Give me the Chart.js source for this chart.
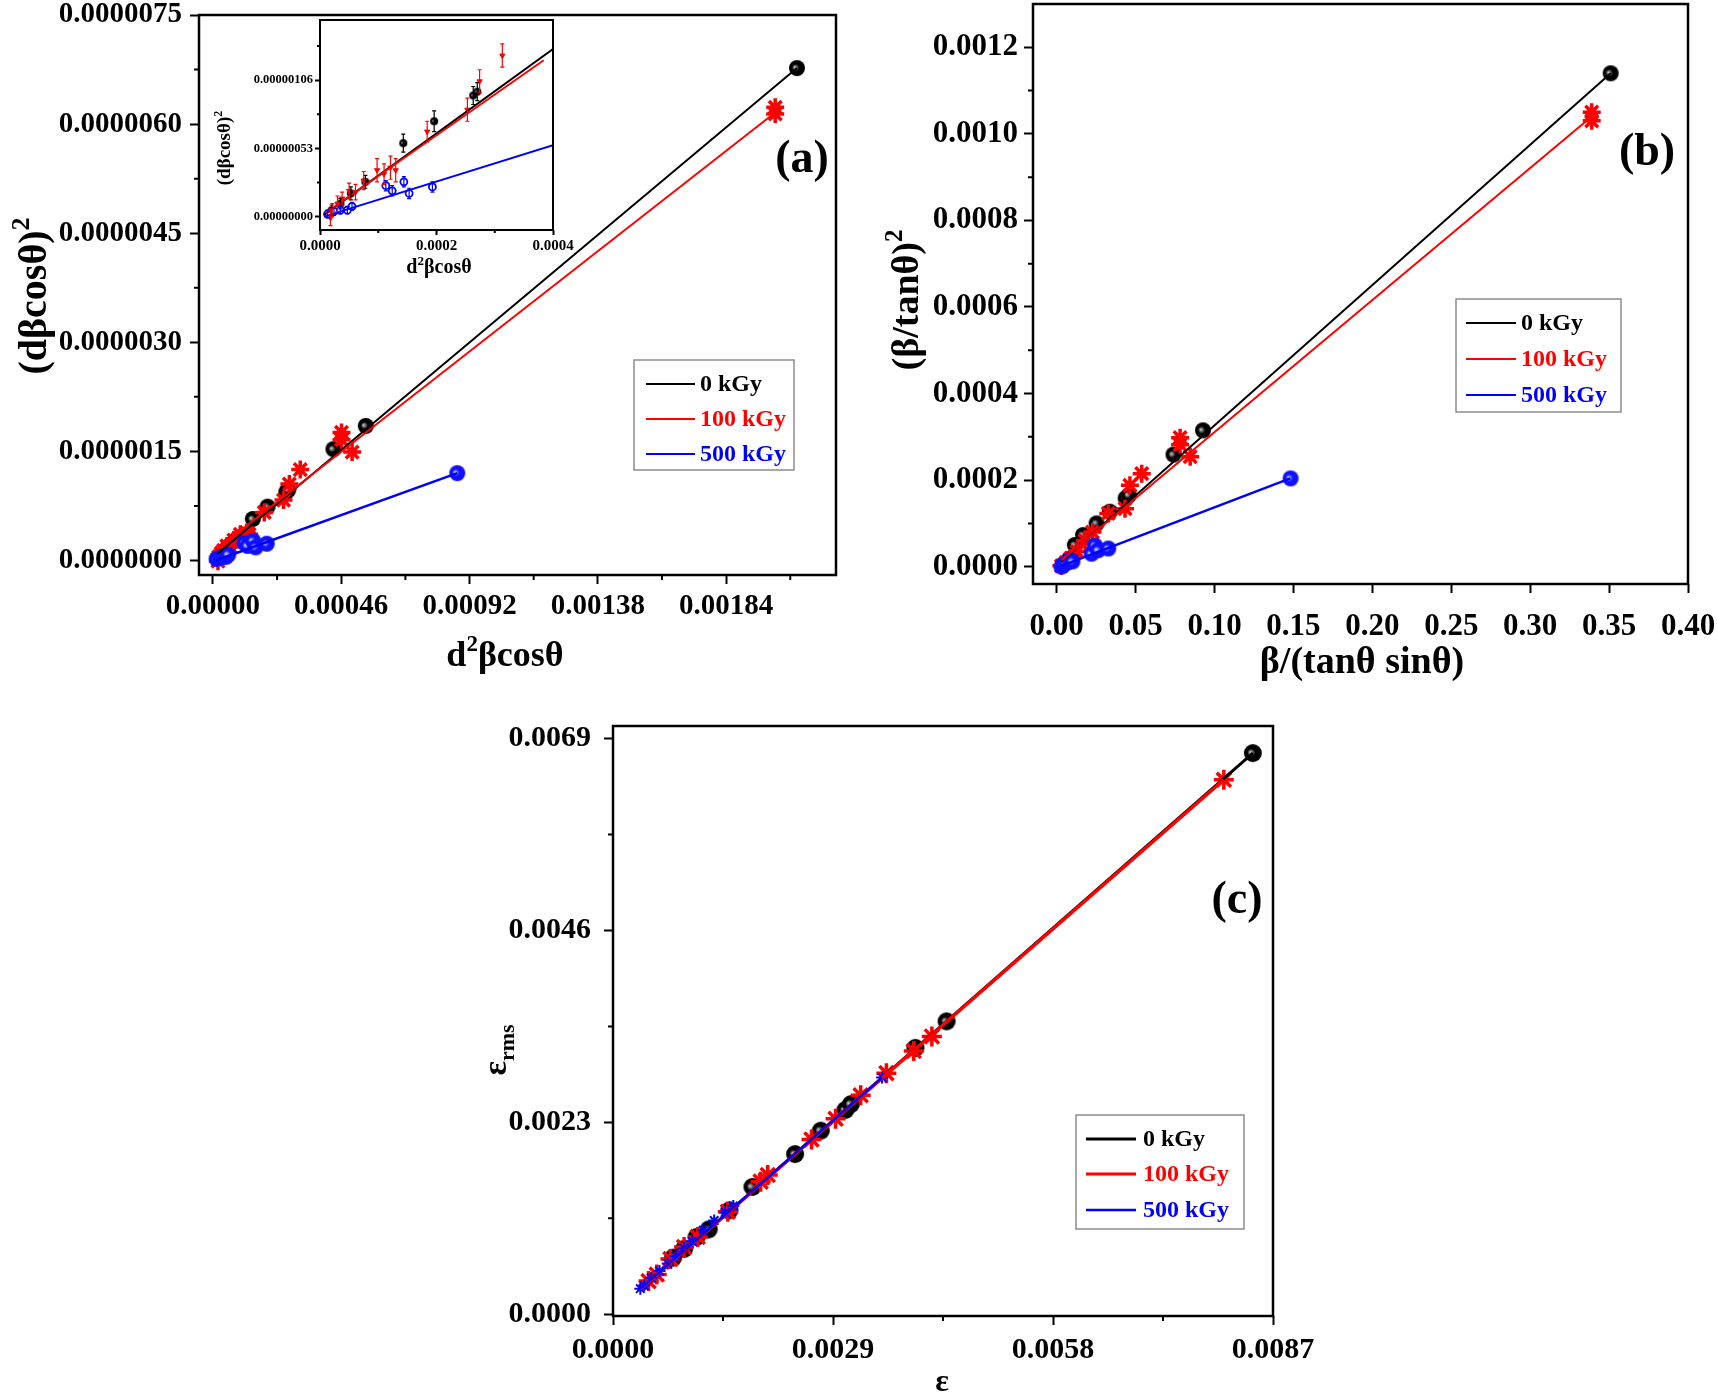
<!DOCTYPE html>
<html lang="en">
<head>
<meta charset="UTF-8" />
<title>Size-strain plots, 0 / 100 / 500 kGy</title>
<script src="https://cdn.jsdelivr.net/npm/chart.js"></script>
<style>
  body { margin: 0; background: #fff; width: 1717px; height: 1399px; position: relative; overflow: hidden; }
  canvas { position: absolute; }
</style>
</head>
<body>
<canvas id="chartA" width="860" height="690" style="left:0;top:0"></canvas>
<canvas id="chartInset" width="400" height="285" style="left:200px;top:0"></canvas>
<canvas id="chartB" width="857" height="690" style="left:860px;top:0"></canvas>
<canvas id="chartC" width="917" height="709" style="left:400px;top:690px"></canvas>
<script>
// ---------- panel (a): (dβcosθ)² vs d²βcosθ ----------
const aTicksX = [0, 0.00046, 0.00092, 0.00138, 0.00184];
const aMinorX = [0.00023, 0.00069, 0.00115, 0.00161, 0.00207];
const aTicksY = [0, 0.0000015, 0.000003, 0.0000045, 0.000006, 0.0000075];
const aMinorY = [0.00000075, 0.00000225, 0.00000375, 0.00000525, 0.00000675];

const a0kX = [0.000020, 0.000035, 0.000053, 0.000078, 0.000143, 0.000196, 0.000263, 0.000270, 0.000432, 0.000548, 0.002094];
const a0kY = [0.05e-6, 0.10e-6, 0.18e-6, 0.27e-6, 0.57e-6, 0.74e-6, 0.94e-6, 0.97e-6, 1.53e-6, 1.85e-6, 6.77e-6];
const a0kErr = [0.04e-6, 0.04e-6, 0.05e-6, 0.05e-6, 0.07e-6, 0.08e-6, 0.07e-6, 0.07e-6, 0.08e-6, 0.08e-6, 0.1e-6];

const a100kX = [0.000018, 0.000021, 0.000030, 0.000038, 0.000050, 0.000061, 0.000075, 0.000098, 0.000110, 0.000121, 0.000130, 0.000184, 0.000253, 0.000274, 0.000313, 0.000461, 0.000461, 0.000499, 0.002016, 0.002016];
const a100kY = [-0.01e-6, 0.05e-6, 0.10e-6, 0.14e-6, 0.20e-6, 0.19e-6, 0.28e-6, 0.36e-6, 0.33e-6, 0.38e-6, 0.36e-6, 0.66e-6, 0.83e-6, 1.05e-6, 1.25e-6, 1.66e-6, 1.76e-6, 1.49e-6, 6.14e-6, 6.23e-6];
const a100kErr = [0.06e-6, 0.05e-6, 0.06e-6, 0.05e-6, 0.06e-6, 0.06e-6, 0.07e-6, 0.09e-6, 0.08e-6, 0.09e-6, 0.09e-6, 0.08e-6, 0.09e-6, 0.09e-6, 0.09e-6, 0.09e-6, 0.09e-6, 0.09e-6, 0.1e-6, 0.1e-6];

const a500kX = [0.000013, 0.000024, 0.000035, 0.000047, 0.000055, 0.000113, 0.000124, 0.000144, 0.000153, 0.000193, 0.000876];
const a500kY = [0.02e-6, 0.04e-6, 0.05e-6, 0.05e-6, 0.08e-6, 0.24e-6, 0.20e-6, 0.27e-6, 0.18e-6, 0.23e-6, 1.20e-6];
const a500kErr = [0.03e-6, 0.03e-6, 0.03e-6, 0.03e-6, 0.03e-6, 0.04e-6, 0.04e-6, 0.04e-6, 0.04e-6, 0.04e-6, 0.05e-6];

// fitted lines (end points)
const a0kFitX = [0.000015, 0.002094], a0kFitY = [0.09e-6, 6.77e-6];
const a100kFitX = [0.000005, 0.002016], a100kFitY = [0.13e-6, 6.16e-6];
const a500kFitX = [0.000010, 0.000876], a500kFitY = [0.0, 1.20e-6];

// inset of (a)
const inTicksX = [0, 0.0002, 0.0004];
const inMinorX = [0.0001, 0.0003];
const inTicksY = [0, 0.00000053, 0.00000106];
const inMinorY = [0.000000265, 0.000000795, 0.000001325];
const in0kFitX = [0.000007, 0.0004], in0kFitY = [0.013e-6, 1.30e-6];
const in100kFitX = [0.000010, 0.000384], in100kFitY = [0.03e-6, 1.214e-6];
const in500kFitX = [0.000007, 0.0004], in500kFitY = [0.0, 0.554e-6];

// ---------- panel (b): (β/tanθ)² vs β/(tanθ sinθ) ----------
const bTicksX = [0, 0.05, 0.10, 0.15, 0.20, 0.25, 0.30, 0.35, 0.40];
const bMinorX = [];
const bTicksY = [0, 0.0002, 0.0004, 0.0006, 0.0008, 0.0010, 0.0012];
const bMinorY = [0.0001, 0.0003, 0.0005, 0.0007, 0.0009, 0.0011];

const b0kX = [0.004, 0.008, 0.0115, 0.0167, 0.0253, 0.0337, 0.0437, 0.0458, 0.074, 0.0927, 0.351];
const b0kY = [0.000005, 0.000018, 0.00005, 0.000073, 0.0001, 0.000127, 0.000158, 0.000165, 0.000259, 0.000315, 0.00114];
const b100kX = [0.003, 0.006, 0.009, 0.013, 0.018, 0.0227, 0.0327, 0.0433, 0.0464, 0.0539, 0.0782, 0.0782, 0.0846, 0.339, 0.339];
const b100kY = [0.000002, 0.00001, 0.00002, 0.000035, 0.00006, 0.00008, 0.000123, 0.000134, 0.000188, 0.000215, 0.000282, 0.000298, 0.000254, 0.00105, 0.00103];
const b500kX = [0.003, 0.004, 0.006, 0.0083, 0.010, 0.0221, 0.0242, 0.0263, 0.0327, 0.1482];
const b500kY = [0.0, 0.000004, 0.000008, 0.000015, 0.000012, 0.00003, 0.000049, 0.000038, 0.000042, 0.000204];

const b0kFitX = [0.003, 0.351], b0kFitY = [0.000012, 0.00114];
const b100kFitX = [0.003, 0.339], b100kFitY = [0.000015, 0.00104];
const b500kFitX = [0.003, 0.148], b500kFitY = [0.000002, 0.000204];

// ---------- panel (c): ε_rms vs ε ----------
const cTicksX = [0, 0.0029, 0.0058, 0.0087];
const cMinorX = [0.00145, 0.00435, 0.00725];
const cTicksY = [0, 0.0023, 0.0046, 0.0069];
const cMinorY = [0.00115, 0.00345, 0.00575];

const c0kX = [0.000793, 0.000937, 0.001103, 0.001262, 0.001535, 0.001838, 0.0024, 0.002739, 0.003064, 0.003136, 0.003986, 0.004397, 0.008434];
const c0kY = [0.000679, 0.000785, 0.000928, 0.001018, 0.001246, 0.001527, 0.00192, 0.002201, 0.00245, 0.002519, 0.003193, 0.003511, 0.006725];
const c100kX = [0.000469, 0.000577, 0.000757, 0.000937, 0.001117, 0.001514, 0.001946, 0.00204, 0.002617, 0.002934, 0.003265, 0.003604, 0.003965, 0.004203, 0.008052];
const c100kY = [0.000398, 0.000477, 0.000663, 0.000806, 0.000928, 0.00123, 0.00159, 0.00167, 0.002095, 0.002344, 0.002625, 0.00289, 0.003155, 0.00333, 0.006406];
const c500kX = [0.00036, 0.000411, 0.000505, 0.000613, 0.000721, 0.000829, 0.000937, 0.001045, 0.00119, 0.001334, 0.001478, 0.001586, 0.003547];
const c500kY = [0.000308, 0.000345, 0.000435, 0.00052, 0.00061, 0.0007, 0.000795, 0.000875, 0.001008, 0.001124, 0.00122, 0.001299, 0.002837];

const c0kFitX = [0.00036, 0.008434], c0kFitY = [0.0003, 0.006725];
const c100kFitX = [0.00036, 0.008052], c100kFitY = [0.0003, 0.006406];
const c500kFitX = [0.00036, 0.003547], c500kFitY = [0.000305, 0.002837];

const series = ['0 kGy', '100 kGy', '500 kGy'];
const BLACK = '#000000', RED = '#ff0000', BLUE = '#0000ff';
const FAMILY = '"Liberation Serif", "Times New Roman", serif';

// ---------- helpers ----------
const pts = (xs, ys) => xs.map((x, i) => ({ x: x, y: ys[i] }));

// shaded sphere marker like the Origin "ball" symbol
function ball(dark, light, r) {
  const c = document.createElement('canvas');
  c.width = c.height = 2 * r + 2;
  const g = c.getContext('2d');
  const m = r + 1;
  const grad = g.createRadialGradient(m - r * 0.3, m - r * 0.1, 0, m, m, r);
  grad.addColorStop(0, light);
  grad.addColorStop(0.45, dark);
  grad.addColorStop(1, dark);
  g.fillStyle = grad;
  g.beginPath();
  g.arc(m, m, r, 0, Math.PI * 2);
  g.fill();
  return c;
}

function axis(min, max, ticks, digits, size, pad, fit, isX, tl) {
  return {
    type: 'linear', min: min, max: max,
    afterBuildTicks: s => { s.ticks = ticks.map(v => ({ value: v })); },
    afterFit: s => {
      if (isX) { s.height = fit; s.paddingLeft = 0; s.paddingRight = 0; }
      else { s.width = fit; s.paddingTop = 0; s.paddingBottom = 0; }
    },
    ticks: {
      callback: v => v.toFixed(digits),
      font: { family: FAMILY, weight: 'bold', size: size },
      color: '#000', padding: pad, maxRotation: 0, autoSkip: false
    },
    grid: { drawOnChartArea: false, drawTicks: true, tickLength: tl, tickWidth: 2, tickColor: '#000' },
    border: { display: false }
  };
}

function lineSet(label, xs, ys, color, w, order) {
  return { label: label, data: pts(xs, ys), showLine: true, borderColor: color, backgroundColor: color,
           borderWidth: w, pointRadius: 0, order: order, fit: true };
}
function markSet(label, xs, ys, style, r, color, bw, order, extra) {
  return Object.assign({ label: label, data: pts(xs, ys), showLine: false, pointStyle: style, pointRadius: r,
           borderColor: color, backgroundColor: color, borderWidth: bw, order: order }, extra || {});
}

// per-canvas extras: frame, minor ticks, texts, legend box
const extras = {};

const framePlugin = {
  id: 'frameAndMinor',
  afterDatasetsDraw(chart) {
    const cfg = extras[chart.canvas.id];
    if (!cfg) return;
    const ctx = chart.ctx, a = chart.chartArea, sx = chart.scales.x, sy = chart.scales.y;
    ctx.save();
    // error bars
    chart.data.datasets.forEach(ds => {
      if (!ds.errY) return;
      ctx.strokeStyle = ds.borderColor;
      ctx.lineWidth = 1.2;
      ctx.beginPath();
      ds.data.forEach((p, i) => {
        const px = sx.getPixelForValue(p.x);
        if (px < a.left || px > a.right) return;
        const y1 = sy.getPixelForValue(p.y - ds.errY[i]), y2 = sy.getPixelForValue(p.y + ds.errY[i]);
        ctx.moveTo(px, y1); ctx.lineTo(px, y2);
        ctx.moveTo(px - 2, y1); ctx.lineTo(px + 2, y1);
        ctx.moveTo(px - 2, y2); ctx.lineTo(px + 2, y2);
      });
      ctx.stroke();
    });
    ctx.strokeStyle = '#000';
    ctx.lineWidth = cfg.frame;
    ctx.strokeRect(a.left, a.top, a.right - a.left, a.bottom - a.top);
    ctx.lineWidth = 2;
    ctx.beginPath();
    cfg.minorX.forEach(v => { const p = sx.getPixelForValue(v); ctx.moveTo(p, a.bottom); ctx.lineTo(p, a.bottom + cfg.minorLen); });
    cfg.minorY.forEach(v => { const p = sy.getPixelForValue(v); ctx.moveTo(a.left, p); ctx.lineTo(a.left - cfg.minorLen, p); });
    ctx.stroke();
    ctx.restore();
  },
  afterDraw(chart) {
    const cfg = extras[chart.canvas.id];
    if (!cfg) return;
    const ctx = chart.ctx;
    (cfg.texts || []).forEach(t => {
      ctx.save();
      ctx.translate(t.x, t.y);
      if (t.rot) ctx.rotate(t.rot);
      ctx.fillStyle = '#000';
      ctx.textBaseline = 'alphabetic';
      let total = 0;
      const ws = t.parts.map(p => { ctx.font = 'bold ' + p[1] + 'px ' + FAMILY; const w = ctx.measureText(p[0]).width; total += w; return w; });
      let x = -total / 2;
      const base = t.parts[0][1] * 0.33;
      t.parts.forEach((p, i) => {
        ctx.font = 'bold ' + p[1] + 'px ' + FAMILY;
        ctx.fillText(p[0], x, base + p[2]);
        x += ws[i];
      });
      ctx.restore();
    });
    const lg = cfg.legend;
    if (lg) {
      ctx.save();
      ctx.strokeStyle = '#8c8c8c';
      ctx.lineWidth = 1.5;
      ctx.strokeRect(lg.box[0], lg.box[1], lg.box[2], lg.box[3]);
      const fits = chart.data.datasets.filter(d => d.fit);
      fits.forEach((d, i) => {
        const y = lg.rows[i];
        ctx.strokeStyle = d.borderColor;
        ctx.lineWidth = lg.lw[i];
        ctx.beginPath(); ctx.moveTo(lg.x0, y); ctx.lineTo(lg.x1, y); ctx.stroke();
        ctx.fillStyle = d.borderColor;
        ctx.font = 'bold ' + lg.size + 'px ' + FAMILY;
        ctx.textBaseline = 'middle';
        ctx.fillText(d.label, lg.tx, y + 1);
      });
      ctx.restore();
    }
  }
};
Chart.register(framePlugin);

function baseOptions(pad, xAxis, yAxis) {
  return {
    responsive: false, animation: false, events: [],
    layout: { padding: pad, autoPadding: false },
    plugins: { legend: { display: false }, tooltip: { enabled: false } },
    scales: { x: xAxis, y: yAxis }
  };
}

// ---------- markers ----------
const ballBlack = ball('#000000', '#d6d6d6', 8);
const ballBlue = ball('#1010ff', '#e6e6ff', 8);
const ballBlackC = ball('#000000', '#d6d6d6', 9);
const ballBlackS = ball('#000000', '#bbbbbb', 4);

// ---------- chart (a) ----------
extras.chartA = {
  frame: 2.5, minorX: aMinorX, minorY: aMinorY, minorLen: 5,
  texts: [
    { x: 33, y: 296, rot: -Math.PI / 2, parts: [['(dβcosθ)', 40, 0], ['2', 26, -17]] },
    { x: 505, y: 654, parts: [['d', 36, 0], ['2', 23, -15], ['βcosθ', 36, 0]] },
    { x: 802, y: 157, parts: [['(a)', 46, 0]] }
  ],
  legend: { box: [634, 360, 160, 110], rows: [384, 419, 454], x0: 646, x1: 695, tx: 700, size: 24, lw: [2, 2, 2] }
};
new Chart(document.getElementById('chartA'), {
  type: 'scatter',
  data: { datasets: [
    lineSet(series[0], a0kFitX, a0kFitY, BLACK, 2, 2),
    lineSet(series[1], a100kFitX, a100kFitY, RED, 2, 1),
    lineSet(series[2], a500kFitX, a500kFitY, BLUE, 2.5, 0),
    markSet(series[0], a0kX, a0kY, ballBlack, 8, BLACK, 1, 5),
    markSet(series[1], a100kX, a100kY, 'star', 9, RED, 3.5, 4),
    markSet(series[2], a500kX, a500kY, ballBlue, 8, BLUE, 1, 3)
  ] },
  options: baseOptions({ left: 0, top: 15, right: 24, bottom: 0 },
    axis(-0.00005, 0.002234, aTicksX, 5, 29, 5, 115, true, 9),
    axis(-0.0000002, 0.0000075, aTicksY, 7, 29, 8, 199, false, 9))
});

// ---------- inset of (a) ----------
extras.chartInset = {
  frame: 2, minorX: inMinorX, minorY: inMinorY, minorLen: 3,
  texts: [
    { x: 24, y: 148, rot: -Math.PI / 2, parts: [['(dβcosθ)', 19, 0], ['2', 12, -8]] },
    { x: 239, y: 266, parts: [['d', 20, 0], ['2', 13, -8], ['βcosθ', 20, 0]] }
  ]
};
new Chart(document.getElementById('chartInset'), {
  type: 'scatter',
  data: { datasets: [
    lineSet(series[0], in0kFitX, in0kFitY, BLACK, 2, 2),
    lineSet(series[1], in100kFitX, in100kFitY, RED, 2, 1),
    lineSet(series[2], in500kFitX, in500kFitY, BLUE, 2, 0),
    markSet(series[0], a0kX, a0kY, ballBlackS, 4, BLACK, 1, 5, { errY: a0kErr }),
    markSet(series[1], a100kX, a100kY, 'triangle', 3, RED, 1, 4, { errY: a100kErr, rotation: 180 }),
    markSet(series[2], a500kX, a500kY, 'circle', 3.5, BLUE, 1.8, 3, { errY: a500kErr, backgroundColor: '#ffffff' })
  ] },
  options: baseOptions({ left: 0, top: 20, right: 47, bottom: 0 },
    axis(0, 0.0004, inTicksX, 4, 15, 2, 55, true, 5),
    axis(-0.000000104, 0.000001526, inTicksY, 8, 12.5, 2, 120, false, 5))
});

// ---------- chart (b) ----------
extras.chartB = {
  frame: 2.5, minorX: bMinorX, minorY: bMinorY, minorLen: 5,
  texts: [
    { x: 45, y: 300, rot: -Math.PI / 2, parts: [['(β/tanθ)', 38, 0], ['2', 25, -16]] },
    { x: 502, y: 660, parts: [['β/(tanθ sinθ)', 38, 0]] },
    { x: 787, y: 150, parts: [['(b)', 46, 0]] }
  ],
  legend: { box: [596, 299, 165, 113], rows: [323, 359, 395], x0: 606, x1: 656, tx: 661, size: 24, lw: [2, 2, 2] }
};
new Chart(document.getElementById('chartB'), {
  type: 'scatter',
  data: { datasets: [
    lineSet(series[0], b0kFitX, b0kFitY, BLACK, 2, 2),
    lineSet(series[1], b100kFitX, b100kFitY, RED, 2, 1),
    lineSet(series[2], b500kFitX, b500kFitY, BLUE, 2.5, 0),
    markSet(series[0], b0kX, b0kY, ballBlack, 8, BLACK, 1, 5),
    markSet(series[1], b100kX, b100kY, 'star', 9, RED, 3.5, 4),
    markSet(series[2], b500kX, b500kY, ballBlue, 8, BLUE, 1, 3)
  ] },
  options: baseOptions({ left: 0, top: 4, right: 29, bottom: 0 },
    axis(-0.015, 0.40, bTicksX, 2, 31, 15, 106, true, 9),
    axis(-0.00004, 0.0013, bTicksY, 4, 31, 6, 173, false, 9))
});

// ---------- chart (c) ----------
extras.chartC = {
  frame: 2.5, minorX: cMinorX, minorY: cMinorY, minorLen: 5,
  texts: [
    { x: 95, y: 360, rot: -Math.PI / 2, parts: [['ε', 34, 0], ['rms', 22, 8]] },
    { x: 542, y: 690, parts: [['ε', 32, 0]] },
    { x: 837, y: 208, parts: [['(c)', 46, 0]] }
  ],
  legend: { box: [676, 425, 168, 114], rows: [449, 484, 520], x0: 686, x1: 736, tx: 743, size: 24, lw: [3, 3, 2.5] }
};
new Chart(document.getElementById('chartC'), {
  type: 'scatter',
  data: { datasets: [
    lineSet(series[0], c0kFitX, c0kFitY, BLACK, 3, 2),
    lineSet(series[1], c100kFitX, c100kFitY, RED, 3.5, 1),
    lineSet(series[2], c500kFitX, c500kFitY, BLUE, 2.5, 0),
    markSet(series[0], c0kX, c0kY, ballBlackC, 9, BLACK, 1, 5),
    markSet(series[1], c100kX, c100kY, 'star', 10, RED, 3.5, 4),
    markSet(series[2], c500kX, c500kY, 'star', 6, BLUE, 2, 3)
  ] },
  options: baseOptions({ left: 0, top: 36, right: 44, bottom: 0 },
    axis(0, 0.0087, cTicksX, 4, 30, 7, 83, true, 9),
    axis(-0.00002, 0.00705, cTicksY, 4, 30, 13, 213, false, 9))
});
</script>
</body>
</html>
